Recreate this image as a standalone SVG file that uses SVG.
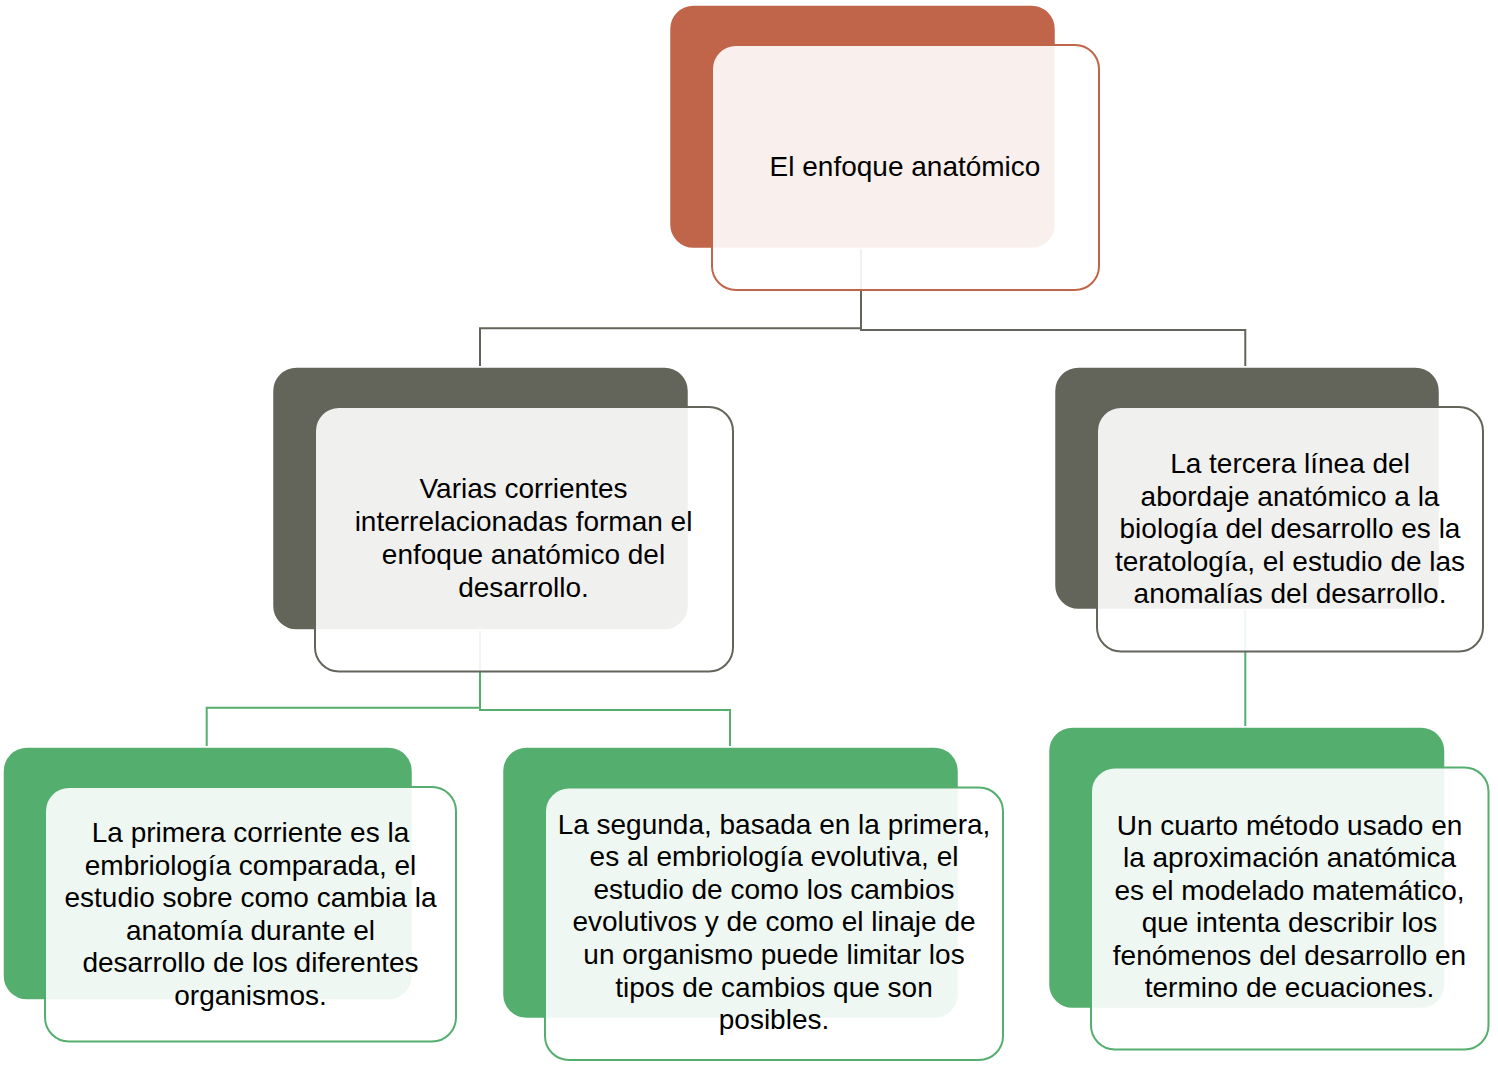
<svg xmlns="http://www.w3.org/2000/svg" width="1498" height="1066" viewBox="0 0 1498 1066">
<style>
.bg{fill:#ffffff}
.back{stroke:#ffffff;stroke-width:1.5}
.front{fill:#ffffff;fill-opacity:0.9;stroke-width:2}
.t{font-family:"Liberation Sans",Arial,sans-serif;font-size:28px;fill:#000000;text-anchor:middle}
.cg{fill:none;stroke:#63645A;stroke-width:2}
.cgr{fill:none;stroke:#54AE6E;stroke-width:2}
.red{fill:#C0654A}
.gray{fill:#63645A}
.green{fill:#54AE6E}
</style>
<rect class="bg" x="0" y="0" width="1498" height="1066"/>
<g id="connectors">
<path class="cg" d="M861,249 V328.3 H480 V366"/>
<path class="cg" d="M861,249 V330 H1245.3 V366"/>
<path class="cgr" d="M480,631 V707.7 H206.7 V746"/>
<path class="cgr" d="M480,631 V710 H730 V746"/>
<path class="cgr" d="M1245.3,610 V726"/>
</g>
<g id="node-top">
<rect class="back red" x="669.5" y="5" width="386" height="243.5" rx="24"/>
<rect class="front" x="712" y="45" width="387" height="245" rx="24" stroke="#C0654A"/>
<text class="t" x="905" y="176">El enfoque anatómico</text>
</g>
<g id="node-varias">
<rect class="back gray" x="272.5" y="367" width="416" height="263" rx="24"/>
<rect class="front" x="315" y="407" width="418" height="264.5" rx="24" stroke="#63645A"/>
<text class="t" x="523.5" y="498">Varias corrientes</text>
<text class="t" x="523.5" y="531">interrelacionadas forman el</text>
<text class="t" x="523.5" y="564">enfoque anatómico del</text>
<text class="t" x="523.5" y="596.5">desarrollo.</text>
</g>
<g id="node-tercera">
<rect class="back gray" x="1054.5" y="367" width="385" height="242.5" rx="24"/>
<rect class="front" x="1097" y="407" width="386" height="244.5" rx="24" stroke="#63645A"/>
<text class="t" x="1290" y="472.5">La tercera línea del</text>
<text class="t" x="1290" y="505.5">abordaje anatómico a la</text>
<text class="t" x="1290" y="538">biología del desarrollo es la</text>
<text class="t" x="1290" y="571">teratología, el estudio de las</text>
<text class="t" x="1290" y="603">anomalías del desarrollo.</text>
</g>
<g id="node-primera">
<rect class="back green" x="3" y="747" width="409.5" height="253" rx="24"/>
<rect class="front" x="45" y="787" width="411" height="254.5" rx="24" stroke="#54AE6E"/>
<text class="t" x="250.5" y="841.5">La primera corriente es la</text>
<text class="t" x="250.5" y="874.5">embriología comparada, el</text>
<text class="t" x="250.5" y="907">estudio sobre como cambia la</text>
<text class="t" x="250.5" y="939.5">anatomía durante el</text>
<text class="t" x="250.5" y="972">desarrollo de los diferentes</text>
<text class="t" x="250.5" y="1004.5">organismos.</text>
</g>
<g id="node-segunda">
<rect class="back green" x="502.5" y="747" width="456" height="271.5" rx="24"/>
<rect class="front" x="545" y="787.5" width="458" height="272.5" rx="24" stroke="#54AE6E"/>
<text class="t" x="774" y="833.5">La segunda, basada en la primera,</text>
<text class="t" x="774" y="866">es al embriología evolutiva, el</text>
<text class="t" x="774" y="898.5">estudio de como los cambios</text>
<text class="t" x="774" y="931">evolutivos y de como el linaje de</text>
<text class="t" x="774" y="964">un organismo puede limitar los</text>
<text class="t" x="774" y="996.5">tipos de cambios que son</text>
<text class="t" x="774" y="1029">posibles.</text>
</g>
<g id="node-cuarto">
<rect class="back green" x="1048.5" y="727" width="396.5" height="281.5" rx="24"/>
<rect class="front" x="1091" y="767.5" width="397.5" height="282" rx="24" stroke="#54AE6E"/>
<text class="t" x="1289.5" y="834.5">Un cuarto método usado en</text>
<text class="t" x="1289.5" y="867">la aproximación anatómica</text>
<text class="t" x="1289.5" y="899.5">es el modelado matemático,</text>
<text class="t" x="1289.5" y="932">que intenta describir los</text>
<text class="t" x="1289.5" y="964.5">fenómenos del desarrollo en</text>
<text class="t" x="1289.5" y="997">termino de ecuaciones.</text>
</g>
</svg>
